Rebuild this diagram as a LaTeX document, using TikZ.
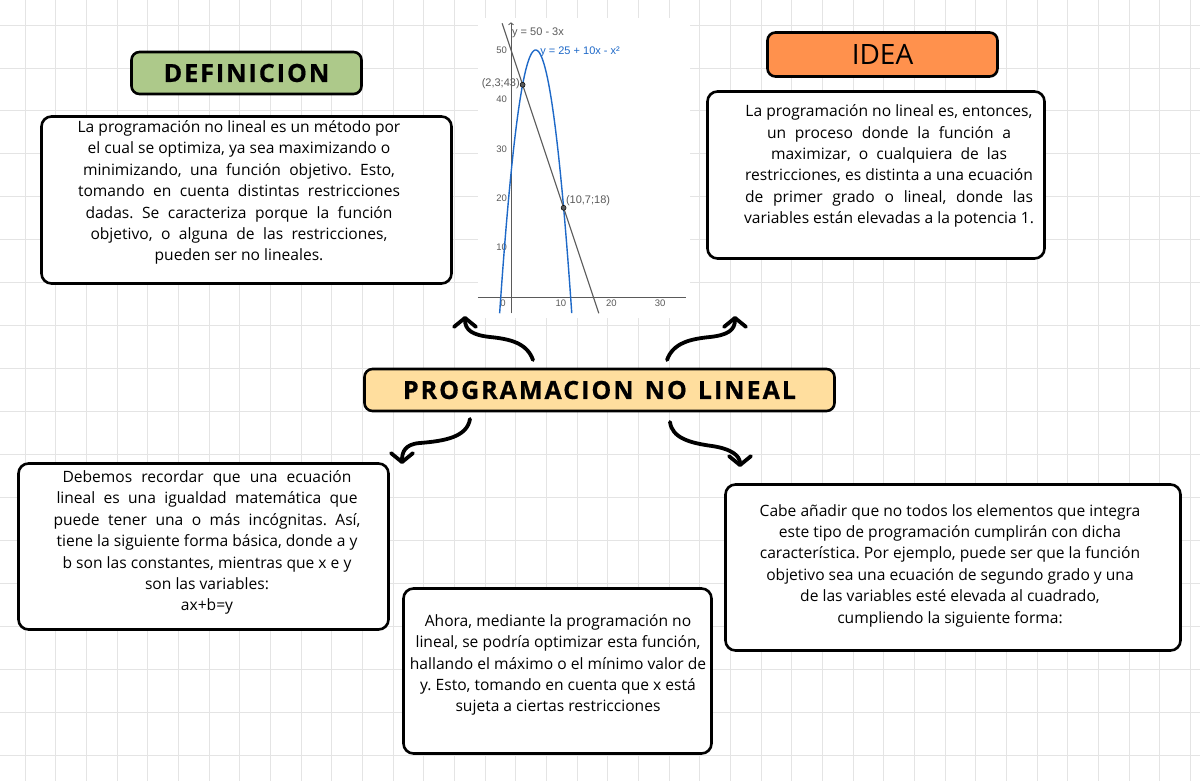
\documentclass[tikz,border=0pt]{standalone}
\usepackage{fontspec}
\setmainfont{Open Sans}
\newfontfamily\graphfont{Liberation Sans}
\usetikzlibrary{arrows.meta}
\definecolor{defgreen}{RGB}{173,201,138}
\definecolor{ideaorange}{RGB}{255,145,77}
\definecolor{progpeach}{RGB}{255,222,158}
\definecolor{gridgray}{RGB}{228,228,228}
\definecolor{ggblue}{RGB}{30,105,200}
\definecolor{ggdark}{RGB}{90,90,90}
\newcommand{\justline}[2]{\makebox[#1pt][s]{#2}}
\newcommand{\wsp}{\hspace{11pt}}
\frenchspacing
\begin{document}
\begin{tikzpicture}[x=1pt,y=-1pt,
  gridline/.style={gridgray, line width=0.8pt},
  textbox/.style={draw=black, line width=2.6pt, rounded corners=10pt, fill=white, inner sep=0pt},
  titlebox/.style={draw=black, line width=2.6pt, rounded corners=8pt, inner sep=0pt},
  bodytext/.style={align=center, font=\fontsize{15.6}{21.4}\selectfont, inner sep=0pt},
  boldtitle/.style={font=\fontsize{25}{25}\selectfont\bfseries\addfontfeatures{LetterSpace=8,FakeBold=0.6}},
  curlyarrow/.style={line width=3.8pt, line cap=round, -{Straight Barb[length=9pt,width=22pt,round]}},
  axisline/.style={ggdark, line width=0.8pt},
  ticklbl/.style={font=\graphfont\fontsize{9.5}{10}\selectfont, text=ggdark, inner sep=0pt},
  graphlbl/.style={font=\graphfont\fontsize{11}{12}\selectfont, inner sep=0pt},
  ggpoint/.style={circle, fill=ggdark, draw=black, line width=0.5pt, inner sep=0pt, minimum size=5pt}
]
\useasboundingbox (0,0) rectangle (1200,781);
\fill[white] (0,0) rectangle (1200,781);
% background grid
\foreach \i in {0,...,38} {\draw[gridline] ({25+30.67*\i},0) -- ({25+30.67*\i},781);}
\foreach \j in {0,...,17} {\draw[gridline] (0,{25+42.94*\j}) -- (1200,{25+42.94*\j});}

% graph
\begin{scope}[shift={(511,297)}, x=4.94pt, y=4.94pt]
  \fill[white] (-6.7,-4.2) rectangle (36.2,56.5);
  \draw[axisline] (-6.7,0) -- (35.5,0);
  \draw[axisline, -{Straight Barb[length=2pt,width=5pt]}] (0,-3.3) -- (0,55.6);
  \foreach \v in {10,20,30,40,50} {\node[ticklbl, anchor=east] (yt\v) at (-0.8,\v) {\v};}
  \node[ticklbl, anchor=north] (xt0) at (-1.6,-0.5) {0};
  \node[ticklbl, anchor=north] (xt10) at (10.1,-0.5) {10};
  \node[ticklbl, anchor=north] (xt20) at (20.3,-0.5) {20};
  \node[ticklbl, anchor=north] (xt30) at (30.2,-0.5) {30};
  \draw[ggblue, line width=1.4pt, domain=-2.3:12.3, samples=90, smooth] plot (\x, {25+10*\x-\x*\x});
  \draw[ggdark, line width=1.1pt] (-1.8,55.4) -- (17.77,-3.3);
  \node[ggpoint] (p1) at (2.35,42.96) {};
  \node[ggpoint] (p2) at (10.65,18.05) {};
  \node[graphlbl, text=ggdark, anchor=east] (p1lbl) at (1.8,43.1) {(2,3;43)};
  \node[graphlbl, text=ggdark, anchor=west] (p2lbl) at (11.1,19.6) {(10,7;18)};
  \node[graphlbl, text=ggdark, anchor=west] (eq1) at (0.2,53.4) {y = 50 - 3x};
  \node[graphlbl, text=ggblue, anchor=west] (eq2) at (5.9,49.6) {y = 25 + 10x - x²};
\end{scope}

% title boxes
\node[titlebox, fill=defgreen, minimum width=230pt, minimum height=42pt, boldtitle] (deftitle) at (246.5,73) {DEFINICION};
\node[titlebox, fill=ideaorange, minimum width=230pt, minimum height=44pt, font=\fontsize{28}{28}\selectfont] (ideatitle) at (882.5,54.5) {IDEA};
\node[titlebox, fill=progpeach, minimum width=470pt, minimum height=42pt, boldtitle] (prog) at (599.5,390) {PROGRAMACION\wsp NO\wsp LINEAL};

% text boxes
\node[textbox, minimum width=410pt, minimum height=167pt] (defbox) at (246.5,200) {};
\node[bodytext] (deftxt) at (239,192.5) {La programación no lineal es un método por\\
el cual se optimiza, ya sea maximizando o\\
\justline{312}{minimizando, una función objetivo. Esto,}\\
\justline{322}{tomando en cuenta distintas restricciones}\\
\justline{307}{dadas. Se caracteriza porque la función}\\
\justline{297}{objetivo, o alguna de las restricciones,}\\
pueden ser no lineales.};

\node[textbox, minimum width=337pt, minimum height=167pt] (ideabox) at (876,175) {};
\node[bodytext] (ideatxt) at (889,166) {La programación no lineal es, entonces,\\
\justline{244}{un proceso donde la función a}\\
\justline{236}{maximizar, o cualquiera de las}\\
restricciones, es distinta a una ecuación\\
\justline{288}{de primer grado o lineal, donde las}\\
variables están elevadas a la potencia 1.};

\node[textbox, minimum width=370pt, minimum height=166pt] (leftbox) at (203.5,546.5) {};
\node[bodytext] (lefttxt) at (207,542.5) {\justline{289}{Debemos recordar que una ecuación}\\
\justline{301}{lineal es una igualdad matemática que}\\
\justline{307}{puede tener una o más incógnitas. Así,}\\
tiene la siguiente forma básica, donde a y\\
b son las constantes, mientras que x e y\\
son las variables:\\
ax+b=y};

\node[textbox, minimum width=308pt, minimum height=165pt] (midbox) at (557.5,671) {};
\node[bodytext] (midtxt) at (558,665) {Ahora, mediante la programación no\\
lineal, se podría optimizar esta función,\\
hallando el máximo o el mínimo valor de\\
y. Esto, tomando en cuenta que x está\\
sujeta a ciertas restricciones};

\node[textbox, minimum width=455pt, minimum height=166pt] (rightbox) at (953,567.5) {};
\node[bodytext] (righttxt) at (950,565.5) {Cabe añadir que no todos los elementos que integra\\
este tipo de programación cumplirán con dicha\\
característica. Por ejemplo, puede ser que la función\\
objetivo sea una ecuación de segundo grado y una\\
de las variables esté elevada al cuadrado,\\
cumpliendo la siguiente forma:};

% curly arrows
\coordinate (a1s) at (533,360); \coordinate (a1e) at (465,316);
\coordinate (a2s) at (667,360); \coordinate (a2e) at (735,316);
\coordinate (a3s) at (470,419); \coordinate (a3e) at (402,464);
\coordinate (a4s) at (670,422); \coordinate (a4e) at (740,467);
\draw[curlyarrow] (a1s) .. controls (527,343) and (510,339) .. (490,337) .. controls (472,335) and (465,330) .. (a1e);
\draw[curlyarrow] (a2s) .. controls (673,343) and (690,339) .. (710,337) .. controls (728,335) and (735,330) .. (a2e);
\draw[curlyarrow] (a3s) .. controls (467,437) and (445,441) .. (420,443) .. controls (405,444) and (402,452) .. (a3e);
\draw[curlyarrow] (a4s) .. controls (672,438) and (690,443) .. (712,446) .. controls (732,449) and (740,456) .. (a4e);
\end{tikzpicture}
\end{document}
